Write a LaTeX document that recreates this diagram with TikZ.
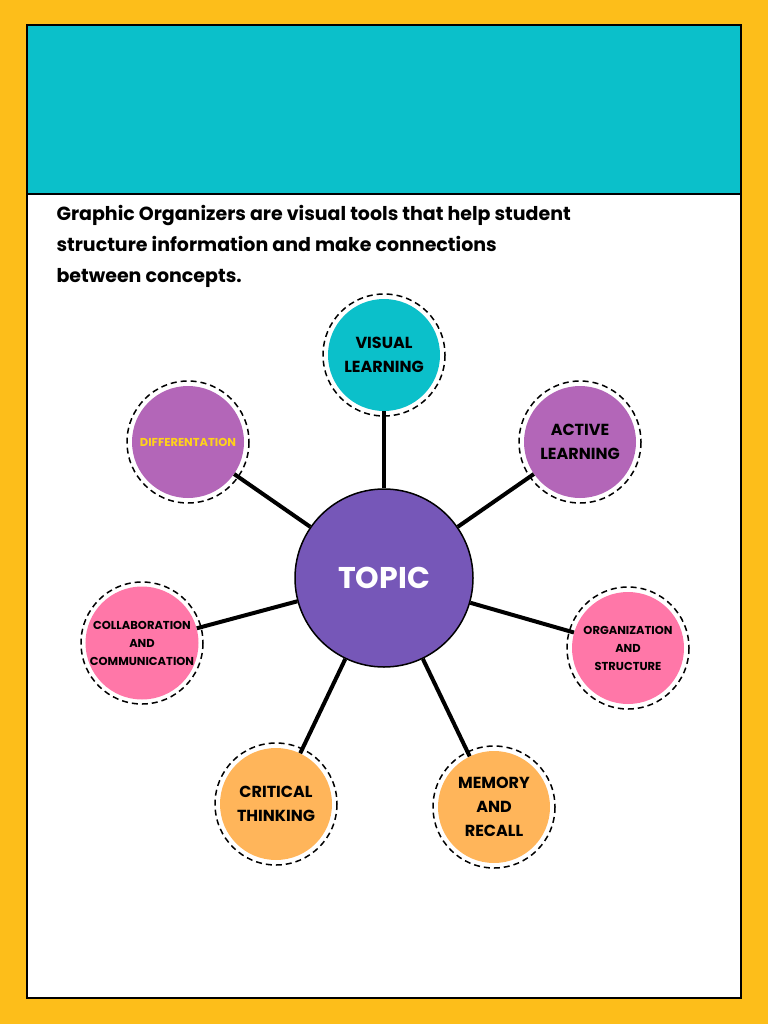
\documentclass[tikz,border=0pt]{standalone}
\usepackage{fontspec}
\setmainfont{Poppins}
\definecolor{bgy}{HTML}{FDBE1A}
\definecolor{teal}{HTML}{0BC0CA}
\definecolor{topicp}{HTML}{7657B8}
\definecolor{lp}{HTML}{B366B8}
\definecolor{pk}{HTML}{FF77A8}
\definecolor{og}{HTML}{FFB55A}
\definecolor{ytxt}{HTML}{FFD21A}
\begin{document}
\begin{tikzpicture}[x=1pt,y=-1pt,
  sat/.style={circle,minimum size=112pt,inner sep=0pt,align=center,font=\fontsize{16}{24}\selectfont\bfseries},
  small/.style={font=\fontsize{11.5}{18}\selectfont\bfseries},
  ring/.style={draw=black,line width=1.5pt,dash pattern=on 6pt off 4pt},
  link/.style={draw=black,line width=4pt}]
\fill[bgy] (0,0) rectangle (768,1024);
\useasboundingbox (0,0) rectangle (768,1024);
\draw[fill=white,line width=1.2pt] (27,25) rectangle (741,998);
\draw[fill=teal,line width=1.2pt] (27,25) rectangle (741,194);
\node[anchor=west,align=left,font=\fontsize{19}{31}\selectfont\bfseries] (intro) at (53,246)
 {Graphic Organizers are visual tools that help student\\structure information and make connections\\between concepts.};
\node[sat,fill=teal] (vis) at (384,355) {VISUAL\\LEARNING};
\node[sat,fill=lp] (act) at (580,442) {ACTIVE\\LEARNING};
\node[sat,fill=lp,small,text=ytxt] (dif) at (188,442) {DIFFERENTATION};
\node[sat,fill=pk,small] (col) at (142,643) {COLLABORATION\\AND\\COMMUNICATION};
\node[sat,fill=pk,small] (org) at (628,648) {ORGANIZATION\\AND\\STRUCTURE};
\node[sat,fill=og] (cri) at (276,804) {CRITICAL\\THINKING};
\node[sat,fill=og] (mem) at (494,807) {MEMORY\\AND\\RECALL};
\foreach \n in {vis,act,dif,col,org,cri,mem}{\draw[ring] (\n.center) circle (61);}
\node[circle,fill=topicp,draw=black,line width=1.5pt,minimum size=178pt,text=white,font=\fontsize{30}{36}\selectfont\bfseries] (top) at (384,578) {TOPIC};
\foreach \n in {vis,act,dif,col,org,cri,mem}{\draw[link] (top) -- (\n);}
\end{tikzpicture}
\end{document}
